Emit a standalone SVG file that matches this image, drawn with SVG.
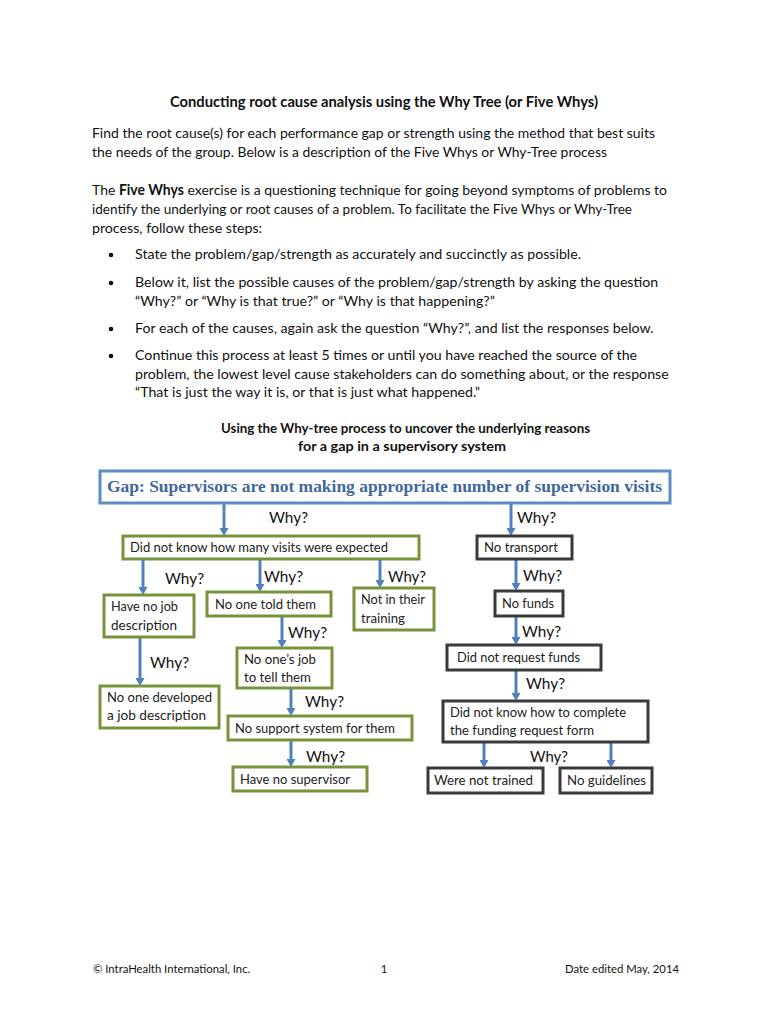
<svg xmlns="http://www.w3.org/2000/svg" width="768" height="1024" viewBox="0 0 768 1024">
<style>
.body{font-family:Lato,"Open Sans","Liberation Sans",sans-serif;font-size:14.2px;fill:#111}
.bold{font-weight:bold}
.sub{font-family:Lato,"Open Sans","Liberation Sans",sans-serif;font-size:13.5px;font-weight:bold;fill:#111}
.foot{font-family:Lato,"Liberation Sans",sans-serif;font-size:11.3px;fill:#111}
.why{font-family:Lato,"Liberation Sans",sans-serif;font-size:16px;fill:#111}
.bt{font-family:Lato,"Liberation Sans",sans-serif;font-size:14px;fill:#222}
.green{fill:#fff;stroke:#77933c;stroke-width:3}
.dark{fill:#fff;stroke:#3a3a3a;stroke-width:3}
.blue{fill:#fff;stroke:#5b8cc4;stroke-width:3}
.gap{font-family:"Liberation Serif","Times New Roman",serif;font-size:17.5px;font-weight:bold;fill:#41689a}
.arr{stroke:#4f81bd;stroke-width:3;fill:none;marker-end:url(#ah)}
</style>
<defs>
<marker id="ah" markerUnits="userSpaceOnUse" markerWidth="8" markerHeight="9" refX="5" refY="5" orient="auto" viewBox="0 0 10 10" preserveAspectRatio="none">
<path d="M0,0 L10,5 L0,10 Z" fill="#4f81bd"/>
</marker>
</defs>
<rect width="768" height="1024" fill="#fff"/>
<g id="text">
<text class="body bold" x="170" y="107" textLength="428" lengthAdjust="spacingAndGlyphs">Conducting root cause analysis using the Why Tree (or Five Whys)</text>
<text class="body" x="92" y="138" textLength="563" lengthAdjust="spacingAndGlyphs">Find the root cause(s) for each performance gap or strength using the method that best suits</text>
<text class="body" x="92" y="157" textLength="515" lengthAdjust="spacingAndGlyphs">the needs of the group. Below is a description of the Five Whys or Why-Tree process</text>
<text class="body" x="92" y="195" textLength="575" lengthAdjust="spacingAndGlyphs">The <tspan class="bold">Five Whys</tspan> exercise is a questioning technique for going beyond symptoms of problems to</text>
<text class="body" x="92" y="214" textLength="540" lengthAdjust="spacingAndGlyphs">identify the underlying or root causes of a problem. To facilitate the Five Whys or Why-Tree</text>
<text class="body" x="92" y="233">process, follow these steps:</text>
<circle cx="111" cy="255" r="2.3" fill="#111"/>
<circle cx="111" cy="283" r="2.3" fill="#111"/>
<circle cx="111" cy="329" r="2.3" fill="#111"/>
<circle cx="111" cy="356" r="2.3" fill="#111"/>
<text class="body" x="135" y="259">State the problem/gap/strength as accurately and succinctly as possible.</text>
<text class="body" x="135" y="287">Below it, list the possible causes of the problem/gap/strength by asking the question</text>
<text class="body" x="135" y="306">“Why?” or “Why is that true?” or “Why is that happening?”</text>
<text class="body" x="135" y="333">For each of the causes, again ask the question “Why?”, and list the responses below.</text>
<text class="body" x="135" y="360">Continue this process at least 5 times or until you have reached the source of the</text>
<text class="body" x="135" y="379">problem, the lowest level cause stakeholders can do something about, or the response</text>
<text class="body" x="135" y="397">“That is just the way it is, or that is just what happened.”</text>
<text class="sub" x="221" y="433" textLength="369" lengthAdjust="spacingAndGlyphs">Using the Why-tree process to uncover the underlying reasons</text>
<text class="sub" x="298" y="451" textLength="208" lengthAdjust="spacingAndGlyphs">for a gap in a supervisory system</text>
<text class="foot" x="93" y="973">© IntraHealth International, Inc.</text>
<text class="foot" x="384" y="973" text-anchor="middle">1</text>
<text class="foot" x="679" y="973" text-anchor="end">Date edited May, 2014</text>
</g>
<g id="connectors">
<line class="arr" x1="224" y1="503" x2="224" y2="532"/>
<line class="arr" x1="511" y1="503" x2="511" y2="532"/>
<line class="arr" x1="143" y1="560" x2="143" y2="591"/>
<line class="arr" x1="260" y1="560" x2="260" y2="588"/>
<line class="arr" x1="380" y1="560" x2="380" y2="584"/>
<line class="arr" x1="282" y1="617" x2="282" y2="644"/>
<line class="arr" x1="140" y1="638" x2="140" y2="682"/>
<line class="arr" x1="291" y1="689" x2="291" y2="712"/>
<line class="arr" x1="291" y1="741" x2="291" y2="763"/>
<line class="arr" x1="516" y1="560" x2="516" y2="587"/>
<line class="arr" x1="516" y1="617" x2="516" y2="641"/>
<line class="arr" x1="516" y1="671" x2="516" y2="697"/>
<line class="arr" x1="484" y1="743" x2="484" y2="764"/>
<line class="arr" x1="611" y1="743" x2="611" y2="764"/>
<text class="why" x="269" y="523" textLength="39" lengthAdjust="spacingAndGlyphs">Why?</text>
<text class="why" x="517" y="523" textLength="39" lengthAdjust="spacingAndGlyphs">Why?</text>
<text class="why" x="165" y="584" textLength="39" lengthAdjust="spacingAndGlyphs">Why?</text>
<text class="why" x="264" y="582" textLength="39" lengthAdjust="spacingAndGlyphs">Why?</text>
<text class="why" x="388" y="582" textLength="38" lengthAdjust="spacingAndGlyphs">Why?</text>
<text class="why" x="288" y="638" textLength="39" lengthAdjust="spacingAndGlyphs">Why?</text>
<text class="why" x="150" y="668" textLength="39" lengthAdjust="spacingAndGlyphs">Why?</text>
<text class="why" x="305" y="707" textLength="39" lengthAdjust="spacingAndGlyphs">Why?</text>
<text class="why" x="306" y="762" textLength="39" lengthAdjust="spacingAndGlyphs">Why?</text>
<text class="why" x="523" y="581" textLength="39" lengthAdjust="spacingAndGlyphs">Why?</text>
<text class="why" x="522" y="637" textLength="39" lengthAdjust="spacingAndGlyphs">Why?</text>
<text class="why" x="526" y="689" textLength="39" lengthAdjust="spacingAndGlyphs">Why?</text>
<text class="why" x="530" y="762" textLength="38" lengthAdjust="spacingAndGlyphs">Why?</text>
</g>
<g id="gap">
<rect class="blue" x="100" y="471" width="570" height="32"/>
<text class="gap" x="107" y="492" textLength="555" lengthAdjust="spacingAndGlyphs">Gap: Supervisors are not making appropriate number of supervision visits</text>
</g>
<g id="n-visits">
<rect class="green" x="123" y="536" width="296" height="23"/>
<text class="bt" x="130" y="552" textLength="258" lengthAdjust="spacingAndGlyphs">Did not know how many visits were expected</text>
</g>
<g id="n-nojobdesc">
<rect class="green" x="104" y="595" width="90" height="42"/>
<text class="bt" x="111" y="611" textLength="67" lengthAdjust="spacingAndGlyphs">Have no job</text>
<text class="bt" x="111" y="630" textLength="66" lengthAdjust="spacingAndGlyphs">description</text>
</g>
<g id="n-notold">
<rect class="green" x="207" y="592" width="124" height="24"/>
<text class="bt" x="215" y="609" textLength="101" lengthAdjust="spacingAndGlyphs">No one told them</text>
</g>
<g id="n-training">
<rect class="green" x="354" y="588" width="80" height="42"/>
<text class="bt" x="361" y="604" textLength="64" lengthAdjust="spacingAndGlyphs">Not in their</text>
<text class="bt" x="361" y="623" textLength="44" lengthAdjust="spacingAndGlyphs">training</text>
</g>
<g id="n-nojob">
<rect class="green" x="237" y="648" width="95" height="40"/>
<text class="bt" x="244" y="664" textLength="72" lengthAdjust="spacingAndGlyphs">No one’s job</text>
<text class="bt" x="244" y="682" textLength="67" lengthAdjust="spacingAndGlyphs">to tell them</text>
</g>
<g id="n-developed">
<rect class="green" x="100" y="686" width="119" height="42"/>
<text class="bt" x="107" y="702" textLength="105" lengthAdjust="spacingAndGlyphs">No one developed</text>
<text class="bt" x="107" y="720" textLength="99" lengthAdjust="spacingAndGlyphs">a job description</text>
</g>
<g id="n-support">
<rect class="green" x="228" y="716" width="184" height="24"/>
<text class="bt" x="235" y="733" textLength="160" lengthAdjust="spacingAndGlyphs">No support system for them</text>
</g>
<g id="n-supervisor">
<rect class="green" x="233" y="767" width="134" height="24"/>
<text class="bt" x="240" y="784" textLength="110" lengthAdjust="spacingAndGlyphs">Have no supervisor</text>
</g>
<g id="n-transport">
<rect class="dark" x="477" y="536" width="95" height="23"/>
<text class="bt" x="484" y="552" textLength="74" lengthAdjust="spacingAndGlyphs">No transport</text>
</g>
<g id="n-funds">
<rect class="dark" x="495" y="591" width="68" height="25"/>
<text class="bt" x="502" y="608" textLength="52" lengthAdjust="spacingAndGlyphs">No funds</text>
</g>
<g id="n-request">
<rect class="dark" x="447" y="645" width="154" height="25"/>
<text class="bt" x="457" y="662" textLength="123" lengthAdjust="spacingAndGlyphs">Did not request funds</text>
</g>
<g id="n-form">
<rect class="dark" x="443" y="701" width="205" height="41"/>
<text class="bt" x="450" y="717" textLength="176" lengthAdjust="spacingAndGlyphs">Did not know how to complete</text>
<text class="bt" x="450" y="735" textLength="144" lengthAdjust="spacingAndGlyphs">the funding request form</text>
</g>
<g id="n-trained">
<rect class="dark" x="428" y="768" width="115" height="25"/>
<text class="bt" x="434" y="785" textLength="99" lengthAdjust="spacingAndGlyphs">Were not trained</text>
</g>
<g id="n-guidelines">
<rect class="dark" x="560" y="768" width="92" height="25"/>
<text class="bt" x="567" y="785" textLength="79" lengthAdjust="spacingAndGlyphs">No guidelines</text>
</g>
</svg>
